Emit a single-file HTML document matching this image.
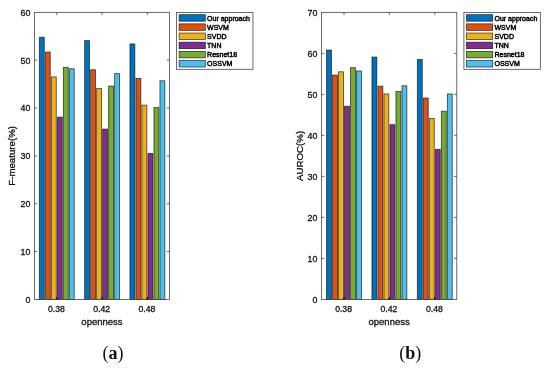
<!DOCTYPE html>
<html><head><meta charset="utf-8"><title>Figure</title>
<style>html,body{margin:0;padding:0;background:#fff}body{width:550px;height:372px;overflow:hidden}</style></head>
<body>
<svg width="550" height="372" viewBox="0 0 550 372" style="display:block" font-family="Liberation Sans, Arial, sans-serif">
<rect width="550" height="372" fill="#fff"/>
<rect x="39.35" y="37.23" width="4.90" height="262.17" fill="#0072BD" stroke="#000" stroke-opacity="0.68" stroke-width="0.85"/>
<rect x="45.35" y="52.06" width="4.90" height="247.34" fill="#D95319" stroke="#000" stroke-opacity="0.68" stroke-width="0.85"/>
<rect x="51.35" y="76.94" width="4.90" height="222.46" fill="#EDB120" stroke="#000" stroke-opacity="0.68" stroke-width="0.85"/>
<rect x="57.35" y="117.12" width="4.90" height="182.28" fill="#7E2F8E" stroke="#000" stroke-opacity="0.68" stroke-width="0.85"/>
<rect x="63.35" y="67.37" width="4.90" height="232.03" fill="#77AC30" stroke="#000" stroke-opacity="0.68" stroke-width="0.85"/>
<rect x="69.35" y="68.80" width="4.90" height="230.60" fill="#4DBEEE" stroke="#000" stroke-opacity="0.68" stroke-width="0.85"/>
<rect x="84.65" y="40.58" width="4.90" height="258.82" fill="#0072BD" stroke="#000" stroke-opacity="0.68" stroke-width="0.85"/>
<rect x="90.65" y="69.76" width="4.90" height="229.64" fill="#D95319" stroke="#000" stroke-opacity="0.68" stroke-width="0.85"/>
<rect x="96.65" y="88.42" width="4.90" height="210.98" fill="#EDB120" stroke="#000" stroke-opacity="0.68" stroke-width="0.85"/>
<rect x="102.65" y="129.08" width="4.90" height="170.32" fill="#7E2F8E" stroke="#000" stroke-opacity="0.68" stroke-width="0.85"/>
<rect x="108.65" y="86.03" width="4.90" height="213.37" fill="#77AC30" stroke="#000" stroke-opacity="0.68" stroke-width="0.85"/>
<rect x="114.65" y="73.59" width="4.90" height="225.81" fill="#4DBEEE" stroke="#000" stroke-opacity="0.68" stroke-width="0.85"/>
<rect x="129.95" y="43.93" width="4.90" height="255.47" fill="#0072BD" stroke="#000" stroke-opacity="0.68" stroke-width="0.85"/>
<rect x="135.95" y="78.37" width="4.90" height="221.03" fill="#D95319" stroke="#000" stroke-opacity="0.68" stroke-width="0.85"/>
<rect x="141.95" y="105.16" width="4.90" height="194.24" fill="#EDB120" stroke="#000" stroke-opacity="0.68" stroke-width="0.85"/>
<rect x="147.95" y="153.48" width="4.90" height="145.92" fill="#7E2F8E" stroke="#000" stroke-opacity="0.68" stroke-width="0.85"/>
<rect x="153.95" y="107.55" width="4.90" height="191.85" fill="#77AC30" stroke="#000" stroke-opacity="0.68" stroke-width="0.85"/>
<rect x="159.95" y="80.76" width="4.90" height="218.64" fill="#4DBEEE" stroke="#000" stroke-opacity="0.68" stroke-width="0.85"/>
<rect x="34.50" y="12.35" width="134.95" height="287.05" fill="none" stroke="#474747" stroke-width="0.8"/>
<text x="30.40" y="303.15" font-size="8.8" text-anchor="end" fill="#111" stroke="#111" stroke-width="0.3">0</text>
<line x1="34.50" x2="37.30" y1="251.56" y2="251.56" stroke="#222" stroke-width="0.65"/>
<line x1="169.45" x2="166.65" y1="251.56" y2="251.56" stroke="#222" stroke-width="0.65"/>
<text x="30.40" y="255.23" font-size="8.8" text-anchor="end" fill="#111" stroke="#111" stroke-width="0.3">10</text>
<line x1="34.50" x2="37.30" y1="203.72" y2="203.72" stroke="#222" stroke-width="0.65"/>
<line x1="169.45" x2="166.65" y1="203.72" y2="203.72" stroke="#222" stroke-width="0.65"/>
<text x="30.40" y="207.32" font-size="8.8" text-anchor="end" fill="#111" stroke="#111" stroke-width="0.3">20</text>
<line x1="34.50" x2="37.30" y1="155.88" y2="155.88" stroke="#222" stroke-width="0.65"/>
<line x1="169.45" x2="166.65" y1="155.88" y2="155.88" stroke="#222" stroke-width="0.65"/>
<text x="30.40" y="159.40" font-size="8.8" text-anchor="end" fill="#111" stroke="#111" stroke-width="0.3">30</text>
<line x1="34.50" x2="37.30" y1="108.03" y2="108.03" stroke="#222" stroke-width="0.65"/>
<line x1="169.45" x2="166.65" y1="108.03" y2="108.03" stroke="#222" stroke-width="0.65"/>
<text x="30.40" y="111.48" font-size="8.8" text-anchor="end" fill="#111" stroke="#111" stroke-width="0.3">40</text>
<line x1="34.50" x2="37.30" y1="60.19" y2="60.19" stroke="#222" stroke-width="0.65"/>
<line x1="169.45" x2="166.65" y1="60.19" y2="60.19" stroke="#222" stroke-width="0.65"/>
<text x="30.40" y="63.57" font-size="8.8" text-anchor="end" fill="#111" stroke="#111" stroke-width="0.3">50</text>
<text x="30.40" y="15.65" font-size="8.8" text-anchor="end" fill="#111" stroke="#111" stroke-width="0.3">60</text>
<line x1="56.80" x2="56.80" y1="299.40" y2="297.20" stroke="#000" stroke-width="1.15"/>
<line x1="56.80" x2="56.80" y1="12.35" y2="15.15" stroke="#222" stroke-width="0.65"/>
<text x="56.40" y="312.10" font-size="8.7" text-anchor="middle" fill="#111" stroke="#111" stroke-width="0.3">0.38</text>
<line x1="102.10" x2="102.10" y1="299.40" y2="297.20" stroke="#000" stroke-width="1.15"/>
<line x1="102.10" x2="102.10" y1="12.35" y2="15.15" stroke="#222" stroke-width="0.65"/>
<text x="101.70" y="312.10" font-size="8.7" text-anchor="middle" fill="#111" stroke="#111" stroke-width="0.3">0.42</text>
<line x1="147.40" x2="147.40" y1="299.40" y2="297.20" stroke="#000" stroke-width="1.15"/>
<line x1="147.40" x2="147.40" y1="12.35" y2="15.15" stroke="#222" stroke-width="0.65"/>
<text x="147.00" y="312.10" font-size="8.7" text-anchor="middle" fill="#111" stroke="#111" stroke-width="0.3">0.48</text>
<text x="101.97" y="324.90" font-size="9.5" text-anchor="middle" fill="#111" stroke="#111" stroke-width="0.3">openness</text>
<text transform="translate(14.90,155.88) rotate(-90)" font-size="9.7" text-anchor="middle" fill="#111" stroke="#111" stroke-width="0.3">F-meature(%)</text>
<rect x="176.50" y="12.40" width="76.45" height="56.90" fill="#fff" stroke="#474747" stroke-width="0.8"/>
<rect x="179.10" y="14.70" width="26.2" height="6.5" fill="#0072BD" stroke="#000" stroke-opacity="0.8" stroke-width="0.7"/>
<text x="207.10" y="20.65" font-size="7" fill="#000" stroke="#000" stroke-width="0.45">Our approach</text>
<rect x="179.10" y="23.86" width="26.2" height="6.5" fill="#D95319" stroke="#000" stroke-opacity="0.8" stroke-width="0.7"/>
<text x="207.10" y="29.81" font-size="7" fill="#000" stroke="#000" stroke-width="0.45">WSVM</text>
<rect x="179.10" y="33.02" width="26.2" height="6.5" fill="#EDB120" stroke="#000" stroke-opacity="0.8" stroke-width="0.7"/>
<text x="207.10" y="38.97" font-size="7" fill="#000" stroke="#000" stroke-width="0.45">SVDD</text>
<rect x="179.10" y="42.18" width="26.2" height="6.5" fill="#7E2F8E" stroke="#000" stroke-opacity="0.8" stroke-width="0.7"/>
<text x="207.10" y="48.13" font-size="7" fill="#000" stroke="#000" stroke-width="0.45">TNN</text>
<rect x="179.10" y="51.34" width="26.2" height="6.5" fill="#77AC30" stroke="#000" stroke-opacity="0.8" stroke-width="0.7"/>
<text x="207.10" y="57.29" font-size="7" fill="#000" stroke="#000" stroke-width="0.45">Resnet18</text>
<rect x="179.10" y="60.50" width="26.2" height="6.5" fill="#4DBEEE" stroke="#000" stroke-opacity="0.8" stroke-width="0.7"/>
<text x="207.10" y="66.45" font-size="7" fill="#000" stroke="#000" stroke-width="0.45">OSSVM</text>
<text x="113.10" y="359.2" font-size="18" text-anchor="middle" font-family="Liberation Serif, Times New Roman, serif" fill="#111">(<tspan font-weight="bold">a</tspan>)</text>
<rect x="326.55" y="50.08" width="4.90" height="249.32" fill="#0072BD" stroke="#000" stroke-opacity="0.68" stroke-width="0.85"/>
<rect x="332.55" y="75.09" width="4.90" height="224.31" fill="#D95319" stroke="#000" stroke-opacity="0.68" stroke-width="0.85"/>
<rect x="338.55" y="71.81" width="4.90" height="227.59" fill="#EDB120" stroke="#000" stroke-opacity="0.68" stroke-width="0.85"/>
<rect x="344.55" y="106.26" width="4.90" height="193.14" fill="#7E2F8E" stroke="#000" stroke-opacity="0.68" stroke-width="0.85"/>
<rect x="350.55" y="67.71" width="4.90" height="231.69" fill="#77AC30" stroke="#000" stroke-opacity="0.68" stroke-width="0.85"/>
<rect x="356.55" y="70.99" width="4.90" height="228.41" fill="#4DBEEE" stroke="#000" stroke-opacity="0.68" stroke-width="0.85"/>
<rect x="371.95" y="57.05" width="4.90" height="242.35" fill="#0072BD" stroke="#000" stroke-opacity="0.68" stroke-width="0.85"/>
<rect x="377.95" y="86.16" width="4.90" height="213.24" fill="#D95319" stroke="#000" stroke-opacity="0.68" stroke-width="0.85"/>
<rect x="383.95" y="93.95" width="4.90" height="205.45" fill="#EDB120" stroke="#000" stroke-opacity="0.68" stroke-width="0.85"/>
<rect x="389.95" y="124.71" width="4.90" height="174.69" fill="#7E2F8E" stroke="#000" stroke-opacity="0.68" stroke-width="0.85"/>
<rect x="395.95" y="91.49" width="4.90" height="207.91" fill="#77AC30" stroke="#000" stroke-opacity="0.68" stroke-width="0.85"/>
<rect x="401.95" y="85.75" width="4.90" height="213.65" fill="#4DBEEE" stroke="#000" stroke-opacity="0.68" stroke-width="0.85"/>
<rect x="417.35" y="59.51" width="4.90" height="239.89" fill="#0072BD" stroke="#000" stroke-opacity="0.68" stroke-width="0.85"/>
<rect x="423.35" y="98.05" width="4.90" height="201.35" fill="#D95319" stroke="#000" stroke-opacity="0.68" stroke-width="0.85"/>
<rect x="429.35" y="118.56" width="4.90" height="180.84" fill="#EDB120" stroke="#000" stroke-opacity="0.68" stroke-width="0.85"/>
<rect x="435.35" y="149.31" width="4.90" height="150.09" fill="#7E2F8E" stroke="#000" stroke-opacity="0.68" stroke-width="0.85"/>
<rect x="441.35" y="111.18" width="4.90" height="188.22" fill="#77AC30" stroke="#000" stroke-opacity="0.68" stroke-width="0.85"/>
<rect x="447.35" y="93.95" width="4.90" height="205.45" fill="#4DBEEE" stroke="#000" stroke-opacity="0.68" stroke-width="0.85"/>
<rect x="321.45" y="12.35" width="135.35" height="287.05" fill="none" stroke="#474747" stroke-width="0.8"/>
<text x="317.35" y="303.15" font-size="8.8" text-anchor="end" fill="#111" stroke="#111" stroke-width="0.3">0</text>
<line x1="321.45" x2="324.25" y1="258.39" y2="258.39" stroke="#222" stroke-width="0.65"/>
<line x1="456.80" x2="454.00" y1="258.39" y2="258.39" stroke="#222" stroke-width="0.65"/>
<text x="317.35" y="262.08" font-size="8.8" text-anchor="end" fill="#111" stroke="#111" stroke-width="0.3">10</text>
<line x1="321.45" x2="324.25" y1="217.39" y2="217.39" stroke="#222" stroke-width="0.65"/>
<line x1="456.80" x2="454.00" y1="217.39" y2="217.39" stroke="#222" stroke-width="0.65"/>
<text x="317.35" y="221.01" font-size="8.8" text-anchor="end" fill="#111" stroke="#111" stroke-width="0.3">20</text>
<line x1="321.45" x2="324.25" y1="176.38" y2="176.38" stroke="#222" stroke-width="0.65"/>
<line x1="456.80" x2="454.00" y1="176.38" y2="176.38" stroke="#222" stroke-width="0.65"/>
<text x="317.35" y="179.94" font-size="8.8" text-anchor="end" fill="#111" stroke="#111" stroke-width="0.3">30</text>
<line x1="321.45" x2="324.25" y1="135.37" y2="135.37" stroke="#222" stroke-width="0.65"/>
<line x1="456.80" x2="454.00" y1="135.37" y2="135.37" stroke="#222" stroke-width="0.65"/>
<text x="317.35" y="138.86" font-size="8.8" text-anchor="end" fill="#111" stroke="#111" stroke-width="0.3">40</text>
<line x1="321.45" x2="324.25" y1="94.36" y2="94.36" stroke="#222" stroke-width="0.65"/>
<line x1="456.80" x2="454.00" y1="94.36" y2="94.36" stroke="#222" stroke-width="0.65"/>
<text x="317.35" y="97.79" font-size="8.8" text-anchor="end" fill="#111" stroke="#111" stroke-width="0.3">50</text>
<line x1="321.45" x2="324.25" y1="53.36" y2="53.36" stroke="#222" stroke-width="0.65"/>
<line x1="456.80" x2="454.00" y1="53.36" y2="53.36" stroke="#222" stroke-width="0.65"/>
<text x="317.35" y="56.72" font-size="8.8" text-anchor="end" fill="#111" stroke="#111" stroke-width="0.3">60</text>
<text x="317.35" y="15.65" font-size="8.8" text-anchor="end" fill="#111" stroke="#111" stroke-width="0.3">70</text>
<line x1="344.00" x2="344.00" y1="299.40" y2="297.20" stroke="#000" stroke-width="1.15"/>
<line x1="344.00" x2="344.00" y1="12.35" y2="15.15" stroke="#222" stroke-width="0.65"/>
<text x="343.60" y="312.10" font-size="8.7" text-anchor="middle" fill="#111" stroke="#111" stroke-width="0.3">0.38</text>
<line x1="389.40" x2="389.40" y1="299.40" y2="297.20" stroke="#000" stroke-width="1.15"/>
<line x1="389.40" x2="389.40" y1="12.35" y2="15.15" stroke="#222" stroke-width="0.65"/>
<text x="389.00" y="312.10" font-size="8.7" text-anchor="middle" fill="#111" stroke="#111" stroke-width="0.3">0.42</text>
<line x1="434.80" x2="434.80" y1="299.40" y2="297.20" stroke="#000" stroke-width="1.15"/>
<line x1="434.80" x2="434.80" y1="12.35" y2="15.15" stroke="#222" stroke-width="0.65"/>
<text x="434.40" y="312.10" font-size="8.7" text-anchor="middle" fill="#111" stroke="#111" stroke-width="0.3">0.48</text>
<text x="389.12" y="324.90" font-size="9.5" text-anchor="middle" fill="#111" stroke="#111" stroke-width="0.3">openness</text>
<text transform="translate(302.90,155.88) rotate(-90)" font-size="9.7" text-anchor="middle" fill="#111" stroke="#111" stroke-width="0.3">AUROC(%)</text>
<rect x="463.90" y="12.40" width="76.45" height="56.90" fill="#fff" stroke="#474747" stroke-width="0.8"/>
<rect x="466.50" y="14.70" width="26.2" height="6.5" fill="#0072BD" stroke="#000" stroke-opacity="0.8" stroke-width="0.7"/>
<text x="494.50" y="20.65" font-size="7" fill="#000" stroke="#000" stroke-width="0.45">Our approach</text>
<rect x="466.50" y="23.86" width="26.2" height="6.5" fill="#D95319" stroke="#000" stroke-opacity="0.8" stroke-width="0.7"/>
<text x="494.50" y="29.81" font-size="7" fill="#000" stroke="#000" stroke-width="0.45">WSVM</text>
<rect x="466.50" y="33.02" width="26.2" height="6.5" fill="#EDB120" stroke="#000" stroke-opacity="0.8" stroke-width="0.7"/>
<text x="494.50" y="38.97" font-size="7" fill="#000" stroke="#000" stroke-width="0.45">SVDD</text>
<rect x="466.50" y="42.18" width="26.2" height="6.5" fill="#7E2F8E" stroke="#000" stroke-opacity="0.8" stroke-width="0.7"/>
<text x="494.50" y="48.13" font-size="7" fill="#000" stroke="#000" stroke-width="0.45">TNN</text>
<rect x="466.50" y="51.34" width="26.2" height="6.5" fill="#77AC30" stroke="#000" stroke-opacity="0.8" stroke-width="0.7"/>
<text x="494.50" y="57.29" font-size="7" fill="#000" stroke="#000" stroke-width="0.45">Resnet18</text>
<rect x="466.50" y="60.50" width="26.2" height="6.5" fill="#4DBEEE" stroke="#000" stroke-opacity="0.8" stroke-width="0.7"/>
<text x="494.50" y="66.45" font-size="7" fill="#000" stroke="#000" stroke-width="0.45">OSSVM</text>
<text x="410.30" y="359.2" font-size="18" text-anchor="middle" font-family="Liberation Serif, Times New Roman, serif" fill="#111">(<tspan font-weight="bold">b</tspan>)</text>
</svg>
</body></html>
